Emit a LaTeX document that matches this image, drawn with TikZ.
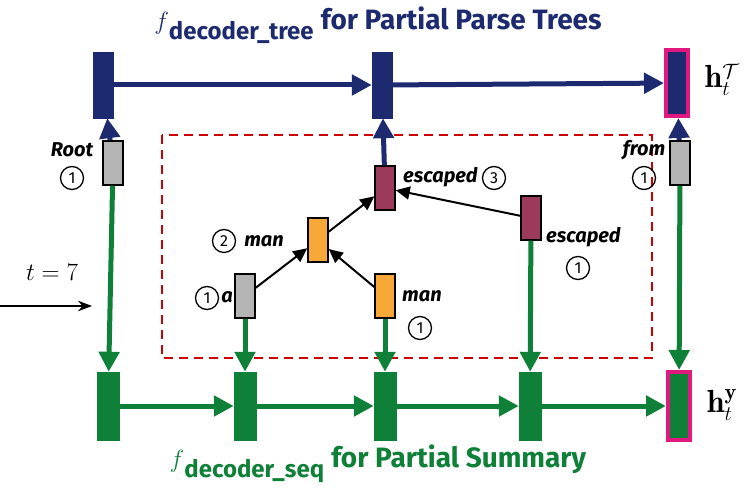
\documentclass[tikz,border=0pt]{standalone}
\usepackage{fontspec}
\usepackage{amsmath}
\newfontfamily\labfont{Fira Sans}
\usetikzlibrary{arrows.meta}
\definecolor{navy}{HTML}{1E2A70}
\definecolor{dgreen}{HTML}{0E8038}
\definecolor{wine}{HTML}{9C3A5C}
\definecolor{orng}{HTML}{F8A838}
\definecolor{gry}{HTML}{B4B4B4}
\definecolor{mag}{HTML}{E0187F}
\begin{document}
\begin{tikzpicture}[x=1pt,y=-1pt,
 blu/.style={fill=navy,draw=navy,minimum width=20pt,minimum height=66pt,inner sep=0pt},
 grn/.style={fill=dgreen,draw=dgreen,minimum width=22pt,minimum height=68pt,inner sep=0pt},
 sm/.style={draw=black,line width=1.5pt,minimum width=20pt,minimum height=44pt,inner sep=0pt},
 ba/.style={navy,line width=5pt,-{Triangle[length=20pt,width=20pt]}},
 ga/.style={dgreen,line width=5pt,-{Triangle[length=20pt,width=20pt]}},
 ka/.style={black,line width=2pt,-{Triangle[length=14pt,width=13pt]}},
 lab/.style={font=\labfont\bfseries\itshape\fontsize{20}{20}\selectfont,inner sep=1pt},
 circ/.style={circle,draw,line width=1.3pt,inner sep=0.5pt,minimum size=23pt,font=\labfont\fontsize{16}{16}\selectfont}]
\useasboundingbox (0,0) rectangle (756,492);
% top
\node[blu] (t1) at (103,85) {};
\node[blu] (t2) at (382,85) {};
\node[blu,draw=mag,line width=4pt,minimum width=22pt] (t3) at (677,83) {};
\draw[ba] (t1) -- (t2);
\draw[ba] (t2) -- (t3);
\node[navy,font=\labfont\bfseries\fontsize{28}{28}\selectfont] (tt) at (378,25) {{\fontsize{40}{40}\selectfont$f$}$_{\text{\labfont\fontsize{24}{24}\selectfont decoder\_tree}}$ for Partial Parse Trees};
\node[font=\fontsize{32}{32}\selectfont] (hT) at (722,80) {$\mathbf{h}_t^{\mathcal{T}}$};
% bottom
\node[grn] (b1) at (108,406) {};
\node[grn] (b2) at (245,406) {};
\node[grn] (b3) at (385,406) {};
\node[grn] (b4) at (530,406) {};
\node[grn,draw=mag,line width=4pt,minimum width=22pt] (b5) at (679,406) {};
\draw[ga] (b1) -- (b2);
\draw[ga] (b2) -- (b3);
\draw[ga] (b3) -- (b4);
\draw[ga] (b4) -- (b5);
\node[dgreen,font=\labfont\bfseries\fontsize{28}{28}\selectfont] (bt) at (378,464) {{\fontsize{40}{40}\selectfont$f$}$_{\text{\labfont\fontsize{24}{24}\selectfont decoder\_seq}}$ for Partial Summary};
\node[font=\fontsize{32}{32}\selectfont] (hy) at (722,405) {$\mathbf{h}_t^{\mathbf{y}}$};
% dashed box
\draw[red!80!black,line width=2pt,dash pattern=on 9pt off 6pt] (162,135) rectangle (652,358);
% small boxes
\node[sm,fill=gry] (root) at (113,163) {};
\node[sm,fill=gry] (from) at (680,163) {};
\node[sm,fill=wine] (esc) at (385,188) {};
\node[sm,fill=wine] (escr) at (531,218) {};
\node[sm,fill=orng] (manu) at (318,240) {};
\node[sm,fill=gry] (a) at (245,296) {};
\node[sm,fill=orng] (manl) at (385,296) {};
\draw[ba] (root) -- (t1);
\draw[ba] (from) -- (t3);
\draw[ba] (esc) -- (t2);
\draw[ga] (root) -- (b1);
\draw[ga] (from) -- (b5);
\draw[ga] (a) -- (b2);
\draw[ga] (manl) -- (b3);
\draw[ga] (escr) -- (b4);
\draw[ka] (a) -- (manu);
\draw[ka] (manl) -- (manu);
\draw[ka] (manu) -- (esc);
\draw[ka] (escr) -- (esc);
% labels
\node[lab] (lroot) at (72,150) {Root};
\node[circ] (c1) at (72,178) {1};
\node[lab] (lfrom) at (644,150) {from};
\node[circ] (c2) at (644,178) {1};
\node[lab,anchor=west] (lesc) at (402,177) {escaped};
\node[circ] (c3) at (494,178) {3};
\node[lab,anchor=west] (lescr) at (545,237) {escaped};
\node[circ] (c4) at (578,268) {1};
\node[circ] (c5) at (224,241) {2};
\node[lab] (lman) at (264,241) {man};
\node[circ] (c6) at (207,298) {1};
\node[lab] (la) at (227,297) {a};
\node[lab,anchor=west] (lmanl) at (401,296) {man};
\node[circ] (c7) at (420,328) {1};
\node[font=\fontsize{38}{38}\selectfont] (t7) at (52,272) {$t=7$};
\coordinate (as) at (0,306);
\coordinate (ae) at (92,306);
\draw[line width=1.5pt,-{Stealth[length=14pt]}] (as) -- (ae);
\end{tikzpicture}
\end{document}
